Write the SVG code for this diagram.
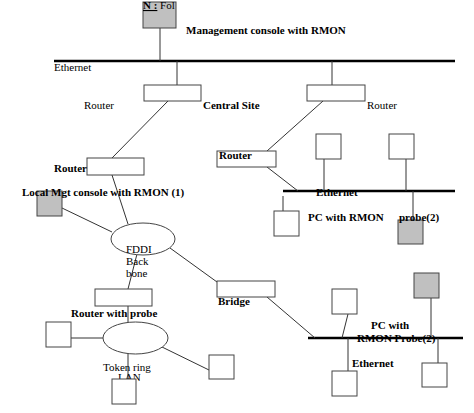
<svg xmlns="http://www.w3.org/2000/svg" width="474" height="413" viewBox="0 0 474 413">
<style>
text{font-family:"Liberation Serif","Times New Roman",serif;font-size:11px;fill:#000}
.b{font-weight:bold}
.box{fill:#fff;stroke:#444;stroke-width:1}
.gray{fill:#c0c0c0;stroke:#444;stroke-width:1}
.ln{stroke:#333;stroke-width:1;fill:none}
.eth{stroke:#000;stroke-width:2.5;fill:none}
</style>
<rect width="474" height="413" fill="#fff"/>
<g id="connectors">
<line class="eth" x1="54" y1="61" x2="455" y2="61"/>
<line class="eth" x1="283" y1="191" x2="455" y2="191"/>
<line class="eth" x1="308" y1="338" x2="463" y2="338"/>
<line class="ln" x1="160" y1="28" x2="160" y2="61"/>
<line class="ln" x1="177" y1="61" x2="177" y2="85"/>
<line class="ln" x1="332" y1="61" x2="332" y2="85"/>
<line class="ln" x1="168" y1="101" x2="112" y2="158"/>
<line class="ln" x1="323" y1="101" x2="267" y2="151"/>
<line class="ln" x1="112" y1="175" x2="128" y2="224"/>
<line class="ln" x1="62" y1="208" x2="112" y2="232"/>
<line class="ln" x1="267" y1="167" x2="298" y2="191"/>
<line class="ln" x1="324" y1="159" x2="324" y2="191"/>
<line class="ln" x1="406" y1="159" x2="406" y2="191"/>
<line class="ln" x1="283" y1="196" x2="283" y2="211"/>
<line class="ln" x1="413" y1="191" x2="413" y2="220"/>
<line class="ln" x1="170" y1="248" x2="217" y2="282"/>
<line class="ln" x1="137" y1="254" x2="128" y2="289"/>
<line class="ln" x1="128" y1="306" x2="128" y2="322"/>
<line class="ln" x1="71" y1="338" x2="103" y2="338"/>
<line class="ln" x1="128" y1="354" x2="128" y2="379"/>
<line class="ln" x1="162" y1="347" x2="209" y2="370"/>
<line class="ln" x1="267" y1="297" x2="315" y2="338"/>
<line class="ln" x1="348" y1="314" x2="342" y2="338"/>
<line class="ln" x1="348" y1="338" x2="348" y2="371"/>
<line class="ln" x1="431" y1="298" x2="431" y2="338"/>
<line class="ln" x1="438" y1="338" x2="438" y2="363"/>
</g>
<g id="mgmt-console">
<rect class="gray" x="143" y="2" width="33" height="26"/>
<text x="143" y="9"><tspan class="b" text-decoration="underline">N :</tspan> Fol</text>
<text class="b" x="186" y="34">Management console with RMON</text>
</g>
<g id="ethernet-top"><text x="54" y="71">Ethernet</text></g>
<g id="router-central">
<rect class="box" x="144" y="85" width="57" height="16"/>
<text x="84" y="109">Router</text>
<text class="b" x="203" y="109">Central Site</text>
</g>
<g id="router-right">
<rect class="box" x="307" y="85" width="58" height="16"/>
<text x="367" y="109">Router</text>
</g>
<g id="router-left">
<rect class="box" x="87" y="158" width="57" height="17"/>
<text class="b" x="54" y="172">Router</text>
</g>
<g id="local-console">
<rect class="gray" x="37" y="191" width="25" height="25"/>
<text class="b" x="22" y="196">Local Mgt console with RMON (1)</text>
</g>
<g id="fddi">
<ellipse class="box" cx="143" cy="239" rx="32" ry="16"/>
<text x="126" y="253">FDDI</text>
<text x="126" y="265">Back</text>
<text x="126" y="277">bone</text>
</g>
<g id="router-mid">
<rect class="box" x="217" y="151" width="59" height="16"/>
<text class="b" x="219" y="159">Router</text>
</g>
<g id="pc-top1"><rect class="box" x="316" y="134" width="25" height="25"/></g>
<g id="pc-top2"><rect class="box" x="389" y="134" width="25" height="25"/></g>
<g id="ethernet-mid"><text class="b" x="316" y="196">Ethernet</text></g>
<g id="pc-rmon">
<rect class="box" x="274" y="211" width="25" height="25"/>
<text class="b" x="308" y="221">PC with RMON</text>
</g>
<g id="probe2">
<rect class="gray" x="398" y="220" width="25" height="24"/>
<text class="b" x="399" y="221">probe(2)</text>
</g>
<g id="router-probe">
<rect class="box" x="95" y="289" width="57" height="17"/>
<text class="b" x="71" y="317">Router with probe</text>
</g>
<g id="token-ring">
<ellipse class="box" cx="135.5" cy="338" rx="32.5" ry="16"/>
<text x="103" y="371">Token ring</text>
<text x="118" y="381">LAN</text>
</g>
<g id="tr-left"><rect class="box" x="46" y="322" width="25" height="25"/></g>
<g id="tr-bottom"><rect class="box" x="112" y="379" width="24" height="25"/></g>
<g id="tr-right"><rect class="box" x="209" y="355" width="25" height="24"/></g>
<g id="bridge">
<rect class="box" x="217" y="281" width="58" height="16"/>
<text class="b" x="218" y="305">Bridge</text>
</g>
<g id="pc-bot-top"><rect class="box" x="332" y="289" width="25" height="25"/></g>
<g id="pc-bot-bottom"><rect class="box" x="332" y="371" width="25" height="25"/></g>
<g id="rmon-probe2">
<rect class="gray" x="414" y="273" width="25" height="25"/>
<text class="b" x="371" y="329">PC with</text>
<text class="b" x="357" y="342">RMON Probe(2)</text>
</g>
<g id="pc-bot-right"><rect class="box" x="422" y="363" width="25" height="24"/></g>
<g id="ethernet-bot"><text class="b" x="352" y="367">Ethernet</text></g>
</svg>
